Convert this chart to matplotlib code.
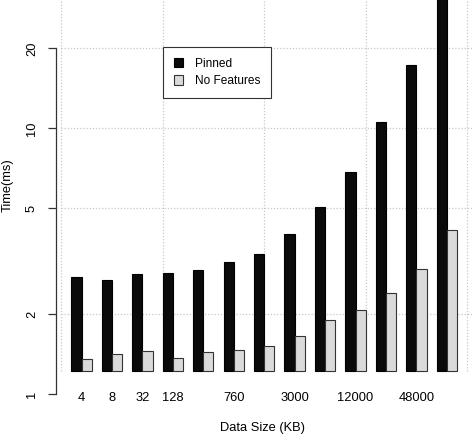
import numpy as np
import matplotlib.pyplot as plt

plt.rcParams['font.family'] = ['Liberation Sans', 'DejaVu Sans']

# data (time in ms, log scale)
size_labels = ['4', '8', '32', '128', '', '760', '', '3000', '', '12000', '', '48000', '']
pinned = [2.75, 2.68, 2.84, 2.86, 2.94, 3.14, 3.36, 3.99, 5.05, 6.87, 10.6, 17.3, 31.0]
no_features = [1.36, 1.42, 1.45, 1.37, 1.435, 1.47, 1.52, 1.66, 1.905, 2.07, 2.39, 2.96, 4.14]
y_ticks = [1, 2, 5, 10, 20]

BAR_BASE = 1.22

fig = plt.figure(figsize=(4.74, 4.34), dpi=100)
ax = fig.add_axes([56 / 474, 40 / 434, 416.4 / 474, 394 / 434])
ax.set_yscale('log')
ax.set_xlim(-0.52, 40.52)
ax.set_ylim(1, 30.4)

# R style beside=TRUE layout: bars width 1, one unit gap between groups
n = len(pinned)
left_black = 1 + 3 * np.arange(n)
h_black = np.array(pinned) - BAR_BASE
h_gray = np.array(no_features) - BAR_BASE

# dotted grid first
for gx in [0, 10, 20, 30, 40]:
    ax.vlines(gx, BAR_BASE, 30.4, colors='#c8c8c8', linestyles=(0, (1, 1.5)), linewidth=0.9, zorder=0)
for gy in [2, 5, 10, 20]:
    ax.hlines(gy, 0, 40.52, colors='#c8c8c8', linestyles=(0, (1, 1.5)), linewidth=0.9, zorder=0)

ax.bar(left_black, h_black, width=1, bottom=BAR_BASE, align='edge',
       color='#0a0a0a', edgecolor='#000000', linewidth=0.8, label='Pinned', zorder=2)
ax.bar(left_black + 1, h_gray, width=1, bottom=BAR_BASE, align='edge',
       color='#dadada', edgecolor='#333333', linewidth=0.8, label='No Features', zorder=2)

for s in ['top', 'right', 'bottom']:
    ax.spines[s].set_visible(False)
ax.spines['left'].set_bounds(1, 20)
ax.spines['left'].set_color('#333333')
ax.spines['left'].set_linewidth(0.9)

ax.set_yticks(y_ticks)
ax.set_yticklabels([str(t) for t in y_ticks], rotation=90, va='center')
ax.yaxis.set_minor_locator(plt.NullLocator())
ax.tick_params(axis='y', length=6, width=0.9, color='#333333', pad=7, labelsize=9.3)

ax.set_xticks(left_black + 1)
ax.set_xticklabels(size_labels)
ax.tick_params(axis='x', length=0, pad=-1.5, labelsize=9.3)

fig.text(263 / 474, 1 - 428 / 434, 'Data Size (KB)', ha='center', va='center', fontsize=9.3)
fig.text(8 / 474, 1 - 185 / 434, 'Time(ms)', ha='center', va='center', rotation=90, fontsize=9.3)

leg = ax.legend(loc='upper left', bbox_to_anchor=((163 - 56) / 416.4, 1 - 47 / 394),
                frameon=True, fancybox=False, framealpha=1, edgecolor='#333333',
                fontsize=8.6, handlelength=0.8, handleheight=0.8, handletextpad=1.0,
                borderpad=0.9, labelspacing=0.45, borderaxespad=0)
leg.get_frame().set_linewidth(0.8)

plt.savefig('out.png', dpi=100)
